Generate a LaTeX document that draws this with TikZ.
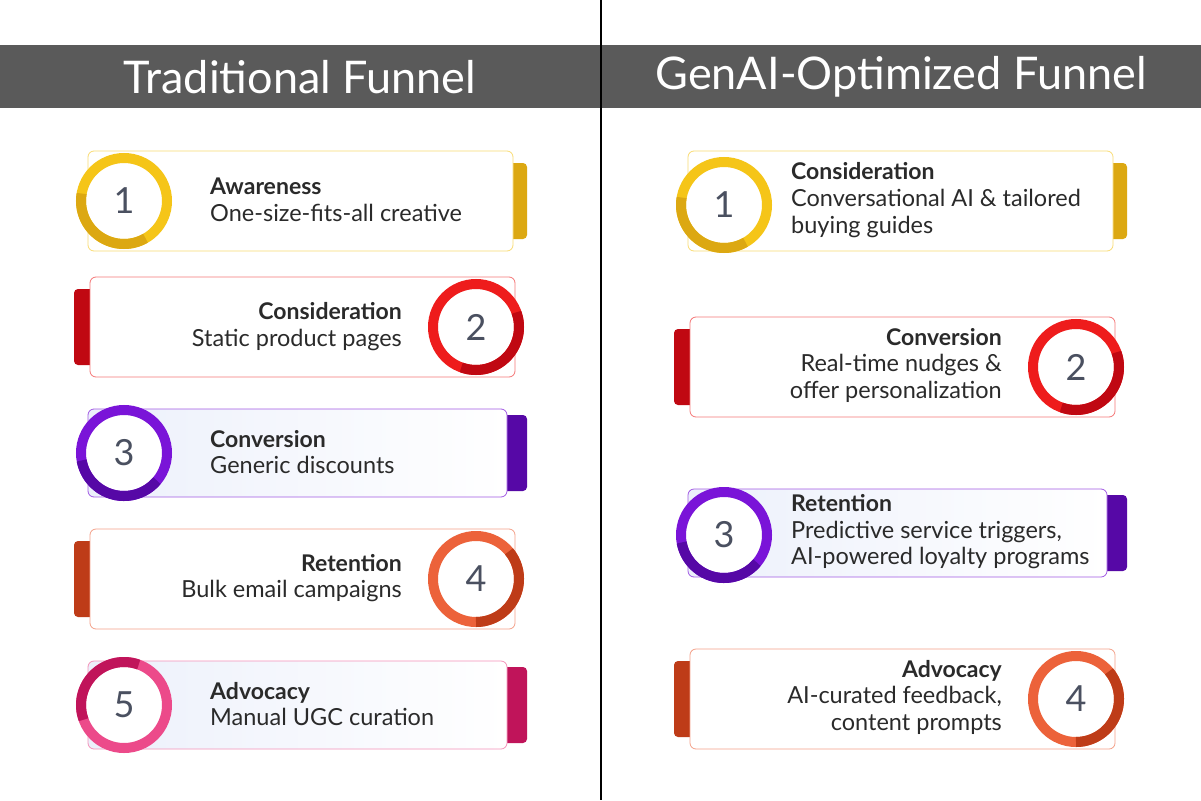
\documentclass[tikz,border=0pt]{standalone}
\usepackage{fontspec}
\setmainfont{Lato}
\definecolor{hdr}{HTML}{5A5A5A}
\definecolor{txt}{HTML}{2A2A2A}
\definecolor{num}{HTML}{4A5060}
\definecolor{yL}{HTML}{F5C518}\definecolor{yD}{HTML}{DCA812}
\definecolor{rL}{HTML}{EE1C1C}\definecolor{rD}{HTML}{C00812}
\definecolor{pL}{HTML}{7A14D8}\definecolor{pD}{HTML}{5608A6}
\definecolor{oL}{HTML}{EC623A}\definecolor{oD}{HTML}{BE3C18}
\definecolor{kL}{HTML}{EC4A8A}\definecolor{kD}{HTML}{C0145A}
\definecolor{lav}{HTML}{ECF0FB}
\tikzset{
 card/.style={draw=#1,line width=0.8pt,rounded corners=6pt},
 tabbox/.style={fill=#1,rounded corners=4pt},
 ring/.style={circle,draw=#1,line width=10pt,fill=white,minimum size=86pt,inner sep=0pt,font=\fontsize{36}{36}\selectfont,text=num},
 ttl/.style={font=\fontsize{23}{24}\selectfont\bfseries,text=txt,inner sep=0pt},
 sub/.style={font=\fontsize{23.5}{27}\selectfont,text=txt,inner sep=0pt},
 head/.style={font=\fontsize{45}{45}\selectfont,text=white}
}
\newcommand{\darkarc}[3]{\draw[#1,line width=10pt] (#2) ++(#3:43pt) arc[start angle=#3,delta angle=-130,radius=43pt];}
\begin{document}
\begin{tikzpicture}[x=1pt,y=-1pt]
\useasboundingbox (0,0) rectangle (1201,800);
\fill[white] (0,0) rectangle (1201,800);
\fill[hdr] (0,45) rectangle (1201,108);
\draw[black,line width=1.5pt] (601,0) -- (601,800);
\node[head] (hl) at (300,77) {Traditional Funnel};
\node[head] (hr) at (901,77) {GenAI-Optimized Funnel};
% ---- left
\fill[tabbox=yD] (505,163) rectangle (527,239);
\draw[card=yL!60,fill=white] (88,151) rectangle (513,251);
\node[ring=yL] (l1) at (124,201) {1};
\darkarc{yD}{l1.center}{-60}
\node[ttl,anchor=base west] (l1t) at (210,194) {Awareness};
\node[sub,anchor=base west] (l1s) at (210,221) {One-size-fits-all creative};
\fill[tabbox=rD] (74,289) rectangle (98,365);
\draw[card=rL!60,fill=white] (90,277) rectangle (515,377);
\node[ring=rL] (l2) at (476,327) {2};
\darkarc{rD}{l2.center}{20}
\node[ttl,anchor=base east] (l2t) at (402,319) {Consideration};
\node[sub,anchor=base east] (l2s) at (402,346) {Static product pages};
\fill[tabbox=pD] (499,415) rectangle (527,491);
\draw[card=pL!70,left color=lav,right color=white] (88,409) rectangle (507,497);
\node[ring=pL] (l3) at (124,453) {3};
\darkarc{pD}{l3.center}{-40}
\node[ttl,anchor=base west] (l3t) at (210,447) {Conversion};
\node[sub,anchor=base west] (l3s) at (210,473) {Generic discounts};
\fill[tabbox=oD] (74,541) rectangle (98,617);
\draw[card=oL!60,fill=white] (90,529) rectangle (515,629);
\node[ring=oL] (l4) at (476,579) {4};
\darkarc{oD}{l4.center}{40}
\node[ttl,anchor=base east] (l4t) at (402,571) {Retention};
\node[sub,anchor=base east] (l4s) at (402,597) {Bulk email campaigns};
\fill[tabbox=kD] (499,667) rectangle (527,743);
\draw[card=kL!60,left color=lav,right color=white] (88,661) rectangle (507,749);
\node[ring=kL] (l5) at (124,705) {5};
\darkarc{kD}{l5.center}{200}
\node[ttl,anchor=base west] (l5t) at (210,699) {Advocacy};
\node[sub,anchor=base west] (l5s) at (210,725) {Manual UGC curation};
% ---- right
\fill[tabbox=yD] (1105,163) rectangle (1127,239);
\draw[card=yL!60,fill=white] (688,151) rectangle (1113,251);
\node[ring=yL] (r1) at (724,205) {1};
\darkarc{yD}{r1.center}{-60}
\node[ttl,anchor=base west] (r1t) at (791,179) {Consideration};
\node[sub,anchor=base west] (r1s) at (791,206) {Conversational AI \& tailored};
\node[sub,anchor=base west] (r1u) at (791,233) {buying guides};
\fill[tabbox=rD] (674,329) rectangle (698,405);
\draw[card=rL!60,fill=white] (690,317) rectangle (1115,417);
\node[ring=rL] (r2) at (1076,367) {2};
\darkarc{rD}{r2.center}{20}
\node[ttl,anchor=base east] (r2t) at (1002,345) {Conversion};
\node[sub,anchor=base east] (r2s) at (1002,371) {Real-time nudges \&};
\node[sub,anchor=base east] (r2u) at (1002,398) {offer personalization};
\fill[tabbox=pD] (1099,495) rectangle (1127,571);
\draw[card=pL!70,left color=lav,right color=white] (688,489) rectangle (1107,577);
\node[ring=pL] (r3) at (724,535) {3};
\darkarc{pD}{r3.center}{-40}
\node[ttl,anchor=base west] (r3t) at (791,511) {Retention};
\node[sub,anchor=base west] (r3s) at (791,538) {Predictive service triggers,};
\node[sub,anchor=base west] (r3u) at (791,564) {AI-powered loyalty programs};
\fill[tabbox=oD] (674,661) rectangle (698,737);
\draw[card=oL!60,fill=white] (690,649) rectangle (1115,749);
\node[ring=oL] (r4) at (1076,699) {4};
\darkarc{oD}{r4.center}{40}
\node[ttl,anchor=base east] (r4t) at (1002,677) {Advocacy};
\node[sub,anchor=base east] (r4s) at (1002,703) {AI-curated feedback,};
\node[sub,anchor=base east] (r4u) at (1002,730) {content prompts};
\end{tikzpicture}
\end{document}
